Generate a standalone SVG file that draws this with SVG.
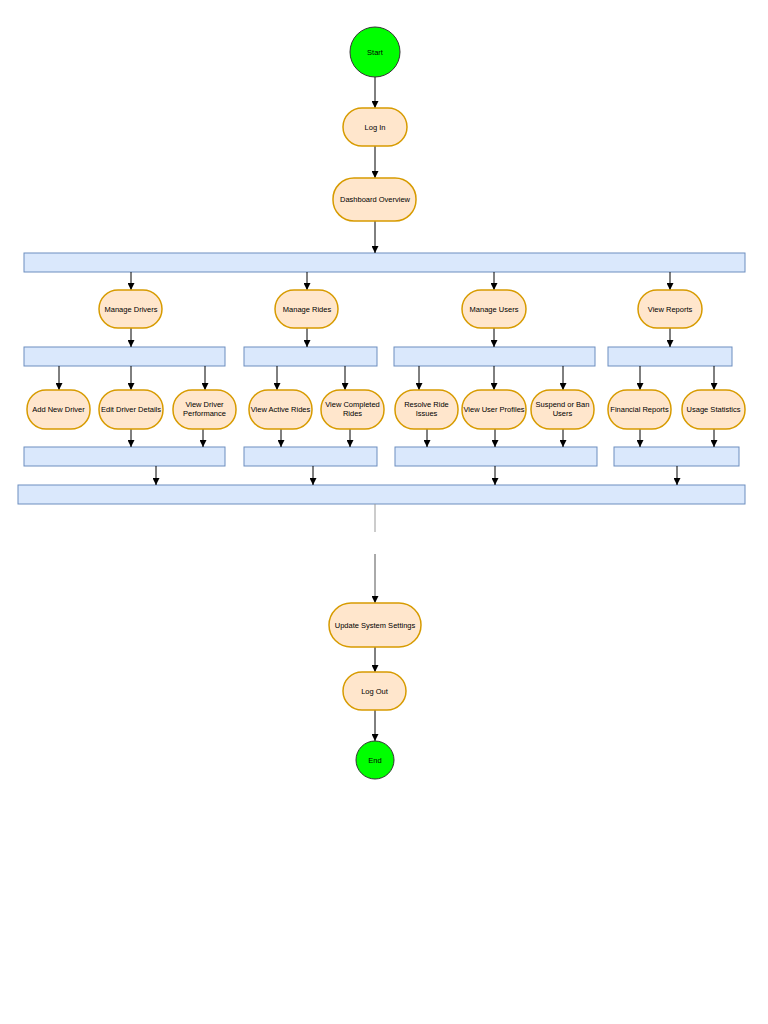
<svg xmlns="http://www.w3.org/2000/svg" width="768" height="1024" viewBox="0 0 768 1024">
<style>
.n{fill:#ffe6cc;stroke:#d79b00;stroke-width:1.5}
.g{fill:#00ff00;stroke:#333;stroke-width:1}
.b{fill:#dae8fc;stroke:#6c8ebf;stroke-width:1}
text{font-family:"Liberation Sans",Arial,sans-serif;font-size:7.5px;fill:#000;text-anchor:middle}
.c line{stroke:#000;stroke-width:1;marker-end:url(#a)}
</style>
<defs><marker id="a" viewBox="0 0 10 10" refX="10" refY="5" markerWidth="7" markerHeight="7" markerUnits="userSpaceOnUse" orient="auto"><path d="M0,0L10,5L0,10z" fill="#000"/></marker></defs>
<rect width="768" height="1024" fill="#fff"/>
<g id="bars">
<rect class="b" x="24" y="253" width="721" height="19"/>
<rect class="b" x="24" y="347" width="201" height="19"/>
<rect class="b" x="244" y="347" width="133" height="19"/>
<rect class="b" x="394" y="347" width="201" height="19"/>
<rect class="b" x="608" y="347" width="124" height="19"/>
<rect class="b" x="24" y="447" width="201" height="19"/>
<rect class="b" x="244" y="447" width="133" height="19"/>
<rect class="b" x="395" y="447" width="202" height="19"/>
<rect class="b" x="614" y="447" width="125" height="19"/>
<rect class="b" x="18" y="485" width="727" height="19"/>
</g>
<g class="c" id="connectors">
<line x1="375" y1="77" x2="375" y2="108"/>
<line x1="375" y1="146" x2="375" y2="178"/>
<line x1="375" y1="221" x2="375" y2="253"/>
<line x1="131" y1="272" x2="131" y2="290"/>
<line x1="307" y1="272" x2="307" y2="290"/>
<line x1="494" y1="272" x2="494" y2="290"/>
<line x1="670" y1="272" x2="670" y2="290"/>
<line x1="131" y1="328" x2="131" y2="347"/>
<line x1="307" y1="328" x2="307" y2="347"/>
<line x1="494" y1="328" x2="494" y2="347"/>
<line x1="670" y1="328" x2="670" y2="347"/>
<line x1="59" y1="366" x2="59" y2="390"/>
<line x1="131" y1="366" x2="131" y2="390"/>
<line x1="205" y1="366" x2="205" y2="390"/>
<line x1="277" y1="366" x2="277" y2="390"/>
<line x1="345" y1="366" x2="345" y2="390"/>
<line x1="419" y1="366" x2="419" y2="390"/>
<line x1="494" y1="366" x2="494" y2="390"/>
<line x1="563" y1="366" x2="563" y2="390"/>
<line x1="640" y1="366" x2="640" y2="390"/>
<line x1="714" y1="366" x2="714" y2="390"/>
<line x1="131" y1="429" x2="131" y2="447"/>
<line x1="203" y1="429" x2="203" y2="447"/>
<line x1="281" y1="429" x2="281" y2="447"/>
<line x1="350" y1="429" x2="350" y2="447"/>
<line x1="427" y1="429" x2="427" y2="447"/>
<line x1="495" y1="429" x2="495" y2="447"/>
<line x1="563" y1="429" x2="563" y2="447"/>
<line x1="640" y1="429" x2="640" y2="447"/>
<line x1="714" y1="429" x2="714" y2="447"/>
<line x1="156" y1="466" x2="156" y2="485"/>
<line x1="313" y1="466" x2="313" y2="485"/>
<line x1="495" y1="466" x2="495" y2="485"/>
<line x1="677" y1="466" x2="677" y2="485"/>
<path d="M375,504V532" stroke="#999" fill="none"/>
<line x1="375" y1="554" x2="375" y2="603" style="stroke:#555"/>
<line x1="375" y1="647" x2="375" y2="672"/>
<line x1="375" y1="710" x2="375" y2="741"/>
</g>
<g id="start"><circle class="g" cx="375" cy="52" r="25"/><text x="375" y="55">Start</text></g>
<g id="login"><rect class="n" x="343" y="108" width="64" height="38" rx="19"/><text x="375" y="130">Log In</text></g>
<g id="dash"><rect class="n" x="333" y="178" width="83" height="43" rx="21"/><text x="375" y="202">Dashboard Overview</text></g>
<g id="md"><rect class="n" x="99" y="290" width="63" height="38" rx="19"/><text x="131" y="312">Manage Drivers</text></g>
<g id="mr"><rect class="n" x="275" y="290" width="63" height="38" rx="19"/><text x="307" y="312">Manage Rides</text></g>
<g id="mu"><rect class="n" x="462" y="290" width="64" height="38" rx="19"/><text x="494" y="312">Manage Users</text></g>
<g id="vr"><rect class="n" x="638" y="290" width="64" height="38" rx="19"/><text x="670" y="312">View Reports</text></g>
<g id="and"><rect class="n" x="27" y="390" width="63" height="39" rx="19"/><text x="58.5" y="412">Add New Driver</text></g>
<g id="edd"><rect class="n" x="99" y="390" width="64" height="39" rx="19"/><text x="131" y="412">Edit Driver Details</text></g>
<g id="vdp"><rect class="n" x="173" y="390" width="63" height="39" rx="19"/><text x="204.5" y="407">View Driver</text><text x="204.5" y="416">Performance</text></g>
<g id="var"><rect class="n" x="249" y="390" width="63" height="39" rx="19"/><text x="280.5" y="412">View Active Rides</text></g>
<g id="vcr"><rect class="n" x="321" y="390" width="63" height="39" rx="19"/><text x="352.5" y="407">View Completed</text><text x="352.5" y="416">Rides</text></g>
<g id="rri"><rect class="n" x="395" y="390" width="63" height="39" rx="19"/><text x="426.5" y="407">Resolve Ride</text><text x="426.5" y="416">Issues</text></g>
<g id="vup"><rect class="n" x="462" y="390" width="64" height="39" rx="19"/><text x="494" y="412">View User Profiles</text></g>
<g id="sbu"><rect class="n" x="531" y="390" width="63" height="39" rx="19"/><text x="562.5" y="407">Suspend or Ban</text><text x="562.5" y="416">Users</text></g>
<g id="fr"><rect class="n" x="608" y="390" width="63" height="39" rx="19"/><text x="639.5" y="412">Financial Reports</text></g>
<g id="us"><rect class="n" x="682" y="390" width="63" height="39" rx="19"/><text x="713.5" y="412">Usage Statistics</text></g>
<g id="uss"><rect class="n" x="329" y="603" width="92" height="44" rx="22"/><text x="375" y="628">Update System Settings</text></g>
<g id="logout"><rect class="n" x="343" y="672" width="63" height="38" rx="19"/><text x="374.5" y="694">Log Out</text></g>
<g id="end"><circle class="g" cx="375" cy="760" r="19"/><text x="375" y="763">End</text></g>
</svg>
